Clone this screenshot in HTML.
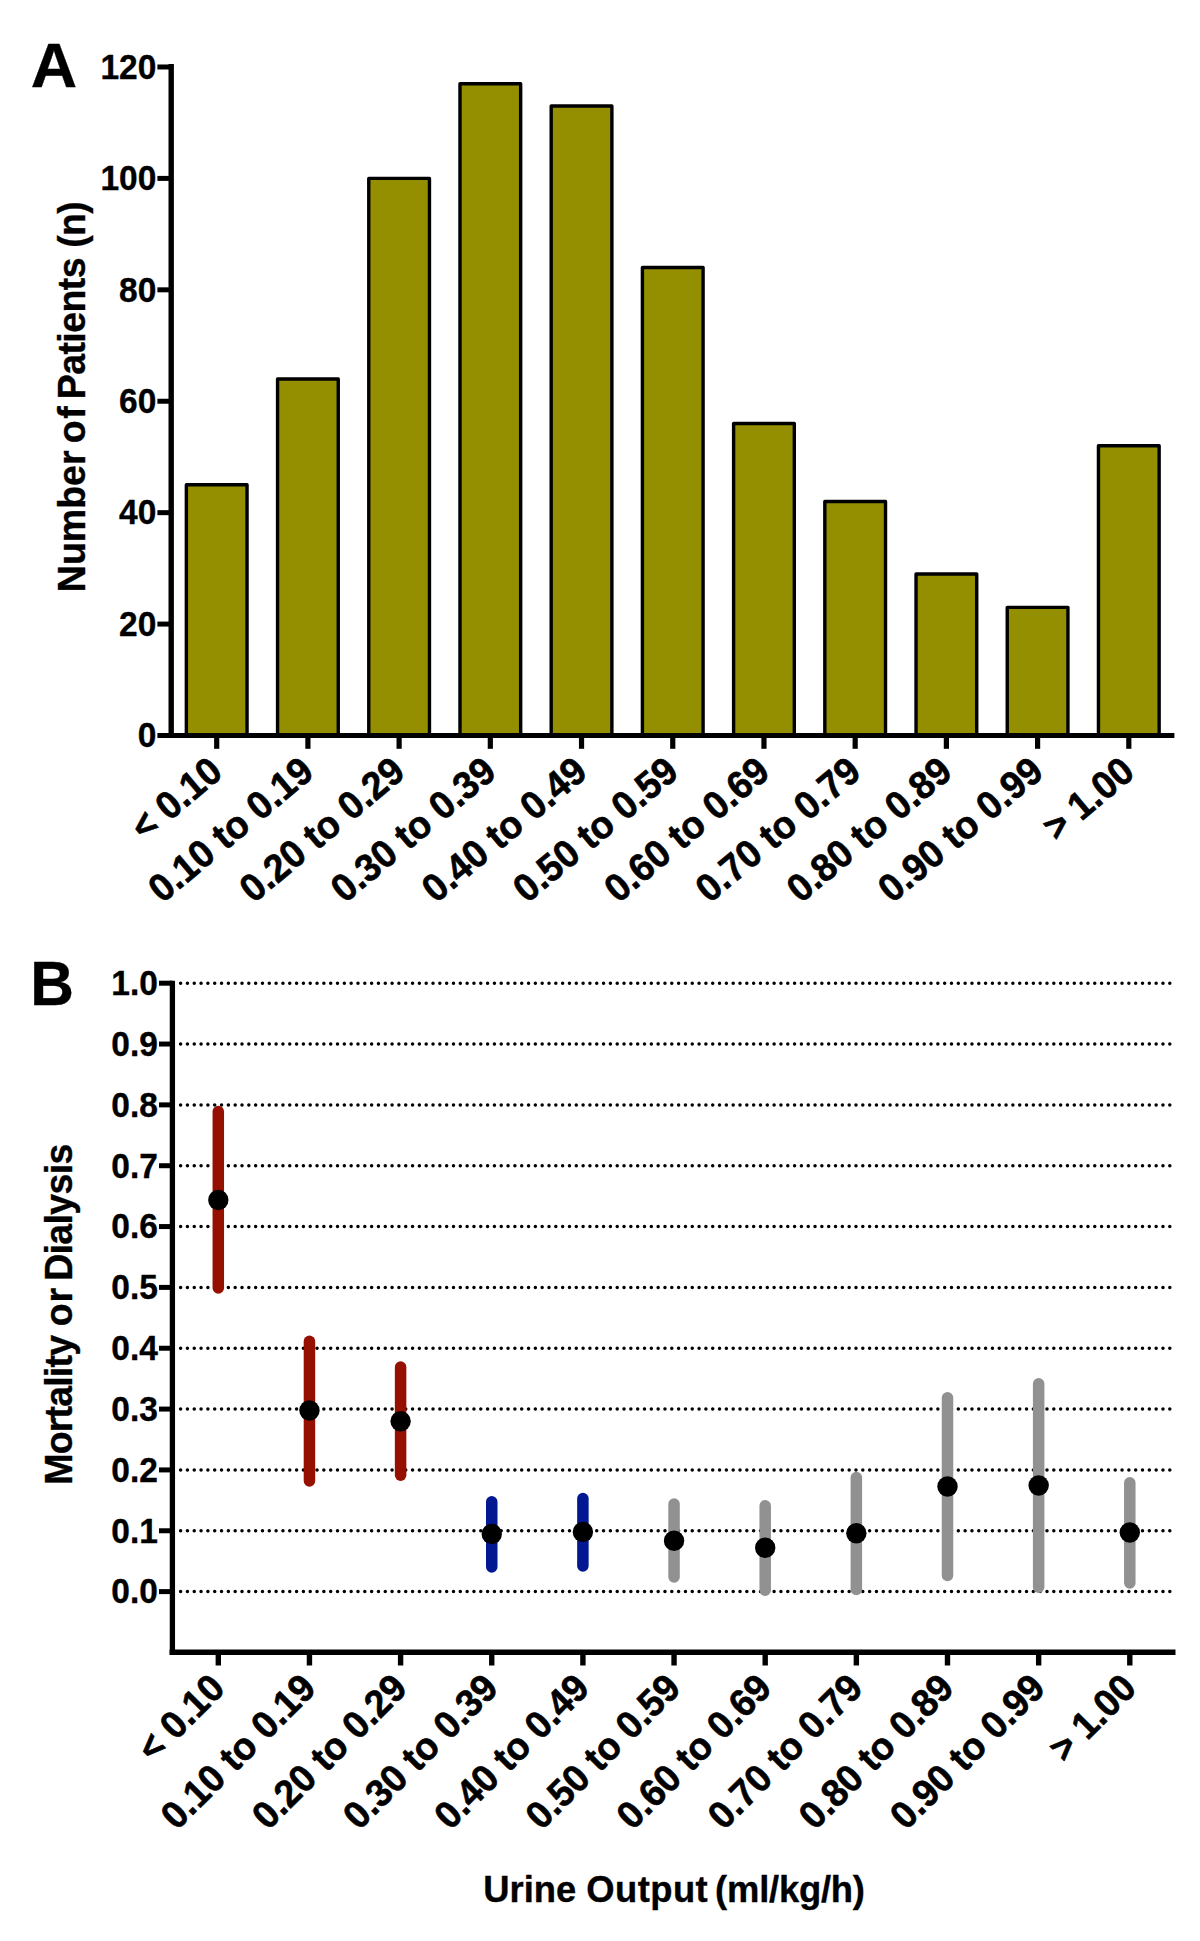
<!DOCTYPE html><html><head><meta charset="utf-8"><title>Figure</title><style>html,body{margin:0;padding:0;background:#fff}svg{display:block}text{font-family:"Liberation Sans",Arial,Helvetica,sans-serif;font-weight:bold;fill:#000;stroke:#000;stroke-width:0.35px;stroke-linejoin:round}</style></head><body>
<svg width="1200" height="1941" viewBox="0 0 1200 1941">
<rect width="1200" height="1941" fill="#fff"/>
<text transform="translate(30.7 86.5) scale(1.062 1.045)" font-size="60.5">A</text>
<rect x="186.35" y="484.81" width="60.7" height="250.69" fill="#948f00" stroke="#000" stroke-width="3.4" stroke-linejoin="round"/>
<rect x="277.56" y="378.96" width="60.7" height="356.54" fill="#948f00" stroke="#000" stroke-width="3.4" stroke-linejoin="round"/>
<rect x="368.77" y="178.40" width="60.7" height="557.10" fill="#948f00" stroke="#000" stroke-width="3.4" stroke-linejoin="round"/>
<rect x="459.98" y="83.69" width="60.7" height="651.81" fill="#948f00" stroke="#000" stroke-width="3.4" stroke-linejoin="round"/>
<rect x="551.19" y="105.98" width="60.7" height="629.52" fill="#948f00" stroke="#000" stroke-width="3.4" stroke-linejoin="round"/>
<rect x="642.40" y="267.54" width="60.7" height="467.96" fill="#948f00" stroke="#000" stroke-width="3.4" stroke-linejoin="round"/>
<rect x="733.61" y="423.52" width="60.7" height="311.98" fill="#948f00" stroke="#000" stroke-width="3.4" stroke-linejoin="round"/>
<rect x="824.82" y="501.52" width="60.7" height="233.98" fill="#948f00" stroke="#000" stroke-width="3.4" stroke-linejoin="round"/>
<rect x="916.03" y="573.94" width="60.7" height="161.56" fill="#948f00" stroke="#000" stroke-width="3.4" stroke-linejoin="round"/>
<rect x="1007.24" y="607.37" width="60.7" height="128.13" fill="#948f00" stroke="#000" stroke-width="3.4" stroke-linejoin="round"/>
<rect x="1098.45" y="445.81" width="60.7" height="289.69" fill="#948f00" stroke="#000" stroke-width="3.4" stroke-linejoin="round"/>
<path d="M171.2 64.1V738.0" stroke="#000" stroke-width="5.4" fill="none"/>
<path d="M157.4 735.5H1174.4" stroke="#000" stroke-width="5.2" fill="none"/>
<text transform="translate(156.3 747.30) scale(1 1.04)" font-size="33.5" text-anchor="end">0</text>
<path d="M157.4 624.08H171.2" stroke="#000" stroke-width="5"/>
<text transform="translate(156.3 635.88) scale(1 1.04)" font-size="33.5" text-anchor="end">20</text>
<path d="M157.4 512.66H171.2" stroke="#000" stroke-width="5"/>
<text transform="translate(156.3 524.46) scale(1 1.04)" font-size="33.5" text-anchor="end">40</text>
<path d="M157.4 401.24H171.2" stroke="#000" stroke-width="5"/>
<text transform="translate(156.3 413.04) scale(1 1.04)" font-size="33.5" text-anchor="end">60</text>
<path d="M157.4 289.82H171.2" stroke="#000" stroke-width="5"/>
<text transform="translate(156.3 301.62) scale(1 1.04)" font-size="33.5" text-anchor="end">80</text>
<path d="M157.4 178.40H171.2" stroke="#000" stroke-width="5"/>
<text transform="translate(156.3 190.20) scale(1 1.04)" font-size="33.5" text-anchor="end">100</text>
<path d="M157.4 66.98H171.2" stroke="#000" stroke-width="5"/>
<text transform="translate(156.3 78.78) scale(1 1.04)" font-size="33.5" text-anchor="end">120</text>
<path d="M216.70 735.5V748.8" stroke="#000" stroke-width="5.2"/>
<text transform="translate(224.60 775.2) rotate(-40) scale(1 1.04)" font-size="37.2" style="stroke-width:0.6px" text-anchor="end">&lt; 0.10</text>
<path d="M307.91 735.5V748.8" stroke="#000" stroke-width="5.2"/>
<text transform="translate(315.81 775.2) rotate(-40) scale(1 1.04)" font-size="37.2" style="stroke-width:0.6px" text-anchor="end">0.10 to 0.19</text>
<path d="M399.12 735.5V748.8" stroke="#000" stroke-width="5.2"/>
<text transform="translate(407.02 775.2) rotate(-40) scale(1 1.04)" font-size="37.2" style="stroke-width:0.6px" text-anchor="end">0.20 to 0.29</text>
<path d="M490.33 735.5V748.8" stroke="#000" stroke-width="5.2"/>
<text transform="translate(498.23 775.2) rotate(-40) scale(1 1.04)" font-size="37.2" style="stroke-width:0.6px" text-anchor="end">0.30 to 0.39</text>
<path d="M581.54 735.5V748.8" stroke="#000" stroke-width="5.2"/>
<text transform="translate(589.44 775.2) rotate(-40) scale(1 1.04)" font-size="37.2" style="stroke-width:0.6px" text-anchor="end">0.40 to 0.49</text>
<path d="M672.75 735.5V748.8" stroke="#000" stroke-width="5.2"/>
<text transform="translate(680.65 775.2) rotate(-40) scale(1 1.04)" font-size="37.2" style="stroke-width:0.6px" text-anchor="end">0.50 to 0.59</text>
<path d="M763.96 735.5V748.8" stroke="#000" stroke-width="5.2"/>
<text transform="translate(771.86 775.2) rotate(-40) scale(1 1.04)" font-size="37.2" style="stroke-width:0.6px" text-anchor="end">0.60 to 0.69</text>
<path d="M855.17 735.5V748.8" stroke="#000" stroke-width="5.2"/>
<text transform="translate(863.07 775.2) rotate(-40) scale(1 1.04)" font-size="37.2" style="stroke-width:0.6px" text-anchor="end">0.70 to 0.79</text>
<path d="M946.38 735.5V748.8" stroke="#000" stroke-width="5.2"/>
<text transform="translate(954.28 775.2) rotate(-40) scale(1 1.04)" font-size="37.2" style="stroke-width:0.6px" text-anchor="end">0.80 to 0.89</text>
<path d="M1037.59 735.5V748.8" stroke="#000" stroke-width="5.2"/>
<text transform="translate(1045.49 775.2) rotate(-40) scale(1 1.04)" font-size="37.2" style="stroke-width:0.6px" text-anchor="end">0.90 to 0.99</text>
<path d="M1128.80 735.5V748.8" stroke="#000" stroke-width="5.2"/>
<text transform="translate(1136.70 775.2) rotate(-40) scale(1 1.04)" font-size="37.2" style="stroke-width:0.6px" text-anchor="end">&gt; 1.00</text>
<text transform="translate(85 592.15) rotate(-90) scale(1 1.035)" font-size="37.5" letter-spacing="0.0">Number</text>
<text transform="translate(85 443.25) rotate(-90) scale(1 1.035)" font-size="37.5" letter-spacing="1.6">of</text>
<text transform="translate(85 399.3) rotate(-90) scale(1 1.035)" font-size="37.5" letter-spacing="-0.57">Patients</text>
<text transform="translate(85 247.8) rotate(-90) scale(1 1.035)" font-size="37.5" letter-spacing="-0.7">(n)</text>
<text transform="translate(30.2 1005.2) scale(1 1.05)" font-size="60.5">B</text>
<path d="M180.6 1591.60H1172.5" stroke="#000" stroke-width="3.5" stroke-linecap="round" stroke-dasharray="0 6.822" fill="none"/>
<path d="M180.6 1530.76H1172.5" stroke="#000" stroke-width="3.5" stroke-linecap="round" stroke-dasharray="0 6.822" fill="none"/>
<path d="M180.6 1469.92H1172.5" stroke="#000" stroke-width="3.5" stroke-linecap="round" stroke-dasharray="0 6.822" fill="none"/>
<path d="M180.6 1409.08H1172.5" stroke="#000" stroke-width="3.5" stroke-linecap="round" stroke-dasharray="0 6.822" fill="none"/>
<path d="M180.6 1348.24H1172.5" stroke="#000" stroke-width="3.5" stroke-linecap="round" stroke-dasharray="0 6.822" fill="none"/>
<path d="M180.6 1287.40H1172.5" stroke="#000" stroke-width="3.5" stroke-linecap="round" stroke-dasharray="0 6.822" fill="none"/>
<path d="M180.6 1226.56H1172.5" stroke="#000" stroke-width="3.5" stroke-linecap="round" stroke-dasharray="0 6.822" fill="none"/>
<path d="M180.6 1165.72H1172.5" stroke="#000" stroke-width="3.5" stroke-linecap="round" stroke-dasharray="0 6.822" fill="none"/>
<path d="M180.6 1104.88H1172.5" stroke="#000" stroke-width="3.5" stroke-linecap="round" stroke-dasharray="0 6.822" fill="none"/>
<path d="M180.6 1044.04H1172.5" stroke="#000" stroke-width="3.5" stroke-linecap="round" stroke-dasharray="0 6.822" fill="none"/>
<path d="M180.6 983.20H1172.5" stroke="#000" stroke-width="3.5" stroke-linecap="round" stroke-dasharray="0 6.822" fill="none"/>
<path d="M218.30 1111.50V1288.00" stroke="#961000" stroke-width="11.5" stroke-linecap="round" fill="none"/>
<circle cx="218.30" cy="1200.00" r="10.2" fill="#000"/>
<path d="M309.45 1341.25V1480.95" stroke="#961000" stroke-width="11.5" stroke-linecap="round" fill="none"/>
<circle cx="309.45" cy="1410.50" r="10.2" fill="#000"/>
<path d="M400.60 1367.00V1475.25" stroke="#961000" stroke-width="11.5" stroke-linecap="round" fill="none"/>
<circle cx="400.60" cy="1421.25" r="10.2" fill="#000"/>
<path d="M491.75 1501.75V1566.95" stroke="#021892" stroke-width="11.5" stroke-linecap="round" fill="none"/>
<circle cx="491.75" cy="1534.00" r="10.2" fill="#000"/>
<path d="M582.90 1498.45V1565.95" stroke="#021892" stroke-width="11.5" stroke-linecap="round" fill="none"/>
<circle cx="582.90" cy="1532.00" r="10.2" fill="#000"/>
<path d="M674.05 1504.05V1576.95" stroke="#919191" stroke-width="11.5" stroke-linecap="round" fill="none"/>
<circle cx="674.05" cy="1540.70" r="10.2" fill="#000"/>
<path d="M765.20 1505.75V1590.25" stroke="#919191" stroke-width="11.5" stroke-linecap="round" fill="none"/>
<circle cx="765.20" cy="1547.70" r="10.2" fill="#000"/>
<path d="M856.35 1477.45V1589.55" stroke="#919191" stroke-width="11.5" stroke-linecap="round" fill="none"/>
<circle cx="856.35" cy="1533.30" r="10.2" fill="#000"/>
<path d="M947.50 1397.75V1575.55" stroke="#919191" stroke-width="11.5" stroke-linecap="round" fill="none"/>
<circle cx="947.50" cy="1486.50" r="10.2" fill="#000"/>
<path d="M1038.65 1383.75V1587.25" stroke="#919191" stroke-width="11.5" stroke-linecap="round" fill="none"/>
<circle cx="1038.65" cy="1485.50" r="10.2" fill="#000"/>
<path d="M1129.80 1482.75V1583.00" stroke="#919191" stroke-width="11.5" stroke-linecap="round" fill="none"/>
<circle cx="1129.80" cy="1532.50" r="10.2" fill="#000"/>
<path d="M172.4 980.75V1655.0" stroke="#000" stroke-width="5.3" fill="none"/>
<path d="M169.6 1652.3H1175.5" stroke="#000" stroke-width="5.4" fill="none"/>
<path d="M159 1591.60H172.4" stroke="#000" stroke-width="5"/>
<text transform="translate(157.8 1603.40) scale(1 1.04)" font-size="33.5" text-anchor="end">0.0</text>
<path d="M159 1530.76H172.4" stroke="#000" stroke-width="5"/>
<text transform="translate(157.8 1542.56) scale(1 1.04)" font-size="33.5" text-anchor="end">0.1</text>
<path d="M159 1469.92H172.4" stroke="#000" stroke-width="5"/>
<text transform="translate(157.8 1481.72) scale(1 1.04)" font-size="33.5" text-anchor="end">0.2</text>
<path d="M159 1409.08H172.4" stroke="#000" stroke-width="5"/>
<text transform="translate(157.8 1420.88) scale(1 1.04)" font-size="33.5" text-anchor="end">0.3</text>
<path d="M159 1348.24H172.4" stroke="#000" stroke-width="5"/>
<text transform="translate(157.8 1360.04) scale(1 1.04)" font-size="33.5" text-anchor="end">0.4</text>
<path d="M159 1287.40H172.4" stroke="#000" stroke-width="5"/>
<text transform="translate(157.8 1299.20) scale(1 1.04)" font-size="33.5" text-anchor="end">0.5</text>
<path d="M159 1226.56H172.4" stroke="#000" stroke-width="5"/>
<text transform="translate(157.8 1238.36) scale(1 1.04)" font-size="33.5" text-anchor="end">0.6</text>
<path d="M159 1165.72H172.4" stroke="#000" stroke-width="5"/>
<text transform="translate(157.8 1177.52) scale(1 1.04)" font-size="33.5" text-anchor="end">0.7</text>
<path d="M159 1104.88H172.4" stroke="#000" stroke-width="5"/>
<text transform="translate(157.8 1116.68) scale(1 1.04)" font-size="33.5" text-anchor="end">0.8</text>
<path d="M159 1044.04H172.4" stroke="#000" stroke-width="5"/>
<text transform="translate(157.8 1055.84) scale(1 1.04)" font-size="33.5" text-anchor="end">0.9</text>
<path d="M159 983.20H172.4" stroke="#000" stroke-width="5"/>
<text transform="translate(157.8 995.00) scale(1 1.04)" font-size="33.5" text-anchor="end">1.0</text>
<path d="M218.30 1652.3V1665.5" stroke="#000" stroke-width="5.4"/>
<text transform="translate(226.70 1690.3) rotate(-45) scale(1 1.04)" font-size="37" style="stroke-width:0.6px" text-anchor="end">&lt; 0.10</text>
<path d="M309.45 1652.3V1665.5" stroke="#000" stroke-width="5.4"/>
<text transform="translate(317.85 1690.3) rotate(-45) scale(1 1.04)" font-size="37" style="stroke-width:0.6px" text-anchor="end">0.10 to 0.19</text>
<path d="M400.60 1652.3V1665.5" stroke="#000" stroke-width="5.4"/>
<text transform="translate(409.00 1690.3) rotate(-45) scale(1 1.04)" font-size="37" style="stroke-width:0.6px" text-anchor="end">0.20 to 0.29</text>
<path d="M491.75 1652.3V1665.5" stroke="#000" stroke-width="5.4"/>
<text transform="translate(500.15 1690.3) rotate(-45) scale(1 1.04)" font-size="37" style="stroke-width:0.6px" text-anchor="end">0.30 to 0.39</text>
<path d="M582.90 1652.3V1665.5" stroke="#000" stroke-width="5.4"/>
<text transform="translate(591.30 1690.3) rotate(-45) scale(1 1.04)" font-size="37" style="stroke-width:0.6px" text-anchor="end">0.40 to 0.49</text>
<path d="M674.05 1652.3V1665.5" stroke="#000" stroke-width="5.4"/>
<text transform="translate(682.45 1690.3) rotate(-45) scale(1 1.04)" font-size="37" style="stroke-width:0.6px" text-anchor="end">0.50 to 0.59</text>
<path d="M765.20 1652.3V1665.5" stroke="#000" stroke-width="5.4"/>
<text transform="translate(773.60 1690.3) rotate(-45) scale(1 1.04)" font-size="37" style="stroke-width:0.6px" text-anchor="end">0.60 to 0.69</text>
<path d="M856.35 1652.3V1665.5" stroke="#000" stroke-width="5.4"/>
<text transform="translate(864.75 1690.3) rotate(-45) scale(1 1.04)" font-size="37" style="stroke-width:0.6px" text-anchor="end">0.70 to 0.79</text>
<path d="M947.50 1652.3V1665.5" stroke="#000" stroke-width="5.4"/>
<text transform="translate(955.90 1690.3) rotate(-45) scale(1 1.04)" font-size="37" style="stroke-width:0.6px" text-anchor="end">0.80 to 0.89</text>
<path d="M1038.65 1652.3V1665.5" stroke="#000" stroke-width="5.4"/>
<text transform="translate(1047.05 1690.3) rotate(-45) scale(1 1.04)" font-size="37" style="stroke-width:0.6px" text-anchor="end">0.90 to 0.99</text>
<path d="M1129.80 1652.3V1665.5" stroke="#000" stroke-width="5.4"/>
<text transform="translate(1138.20 1690.3) rotate(-45) scale(1 1.04)" font-size="37" style="stroke-width:0.6px" text-anchor="end">&gt; 1.00</text>
<text transform="translate(72 1484.75) rotate(-90) scale(1 1.035)" font-size="37.5" letter-spacing="-0.81">Mortality</text>
<text transform="translate(72 1326.3) rotate(-90) scale(1 1.035)" font-size="37.5" letter-spacing="0.9">or</text>
<text transform="translate(72 1280.85) rotate(-90) scale(1 1.035)" font-size="37.5" letter-spacing="-0.66">Dialysis</text>
<text transform="translate(483.2 1902.4) scale(1 1.04)" font-size="36.4" letter-spacing="0.0">Urine</text>
<text transform="translate(586.25 1902.4) scale(1 1.04)" font-size="36.4" letter-spacing="0.44">Output</text>
<text transform="translate(715.1 1902.4) scale(1 1.04)" font-size="36.4" letter-spacing="-0.22">(ml/kg/h)</text>
</svg></body></html>
